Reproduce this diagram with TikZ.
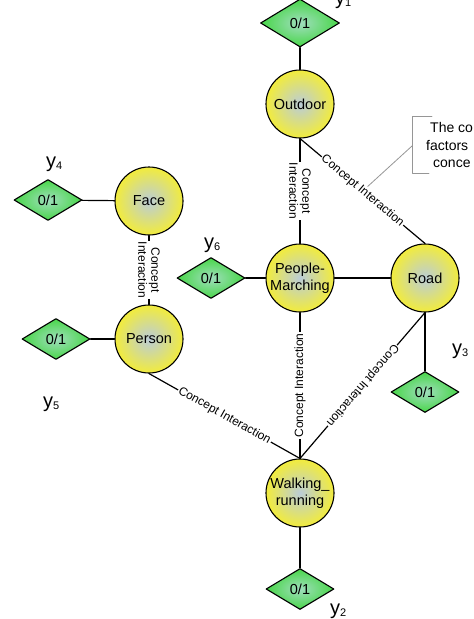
\documentclass[tikz,border=0pt]{standalone}
\usepackage{fontspec}
\setmainfont{Liberation Sans}
\usetikzlibrary{shapes.geometric}
\definecolor{cyellow}{RGB}{242,236,60}
\definecolor{cinner}{RGB}{186,204,216}
\definecolor{dgreen}{RGB}{72,214,72}
\definecolor{dinner}{RGB}{160,222,190}
\definecolor{callgray}{RGB}{150,150,150}
\newcommand{\ylab}[1]{y\raisebox{-2pt}{\fontsize{11}{12}\selectfont #1}}

\begin{document}
\begin{tikzpicture}[x=1pt,y=-1pt,line cap=round,line join=round,
  concept/.style={circle,draw=black,line width=1.1pt,minimum size=68pt,inner sep=0pt,
    inner color=cinner,outer color=cyellow,font=\fontsize{14.5}{17.5}\selectfont,align=center},
  value/.style={diamond,draw=black,line width=1.1pt,minimum width=68pt,minimum height=41pt,
    inner sep=0pt,inner color=dinner,outer color=dgreen,font=\fontsize{14.5}{17}\selectfont},
  link/.style={line width=1.2pt},
  lab/.style={midway,sloped,allow upside down,fill=white,inner sep=1pt,
    font=\fontsize{12}{13}\selectfont,align=center},
  ytag/.style={anchor=base west,inner sep=0pt,font=\fontsize{20}{22}\selectfont},
  calltext/.style={anchor=base west,inner sep=0pt,font=\fontsize{14}{16}\selectfont}]
\useasboundingbox (0,0) rectangle (474,619);

% concept nodes
\node[concept] (out) at (300,104) {Outdoor};
\node[concept] (face) at (149,201) {Face};
\node[concept] (person) at (149,339) {Person};
\node[concept] (pm) at (300,278) {People-\\Marching};
\node[concept] (road) at (425,278) {Road};
\node[concept] (walk) at (300,493) {Walking\_\\running};

% 0/1 values
\node[value,minimum width=79pt,minimum height=48pt] (dout) at (300,23) {0/1};
\node[value] (dface) at (48,200) {0/1};
\node[value] (dperson) at (56,339) {0/1};
\node[value] (dpm) at (211,278) {0/1};
\node[value] (droad) at (425,392) {0/1};
\node[value] (dwalk) at (300,589) {0/1};

% y labels
\node[ytag] (y1) at (335,4) {\ylab{1}};
\node[ytag] (y2) at (330,614) {\ylab{2}};
\node[ytag] (y3) at (452,354) {\ylab{3}};
\node[ytag] (y4) at (46,167) {\ylab{4}};
\node[ytag] (y5) at (43,407) {\ylab{5}};
\node[ytag] (y6) at (204,248) {\ylab{6}};

% callout
\coordinate (brk) at (412,146);
\coordinate (tip) at (366,188);
\draw[callgray,line width=0.8pt] (432,116) -- (412,116) -- (412,173) -- (429,173);
\draw[callgray,line width=0.8pt] (brk) -- (tip);
\node[calltext] (c1) at (430,132) {The co};
\node[calltext] (c2) at (426,150) {factors};
\node[calltext] (c3) at (433,167) {conce};

% links
\draw[link] (dout) -- (out);
\draw[link] (dface) -- (face);
\draw[link] (dperson) -- (person);
\draw[link] (dpm) -- (pm);
\draw[link] (pm) -- (road);
\draw[link] (road) -- (droad);
\draw[link] (walk) -- (dwalk);
\draw[link] (out.south) -- node[lab] {Concept\\Interaction} (pm.north);
\draw[link] (out.south) -- node[lab] {Concept Interaction} (road.north);
\draw[link] (face.south) -- node[lab] {Concept\\Interaction} (person.north);
\draw[link] (person.south) -- node[lab] {Concept Interaction} (walk.north);
\draw[link] (walk.north) -- node[lab] {Concept Interaction} (pm.south);
\draw[link] (road.south) -- node[lab] {Concept Interaction} (walk.north);
\end{tikzpicture}
\end{document}
